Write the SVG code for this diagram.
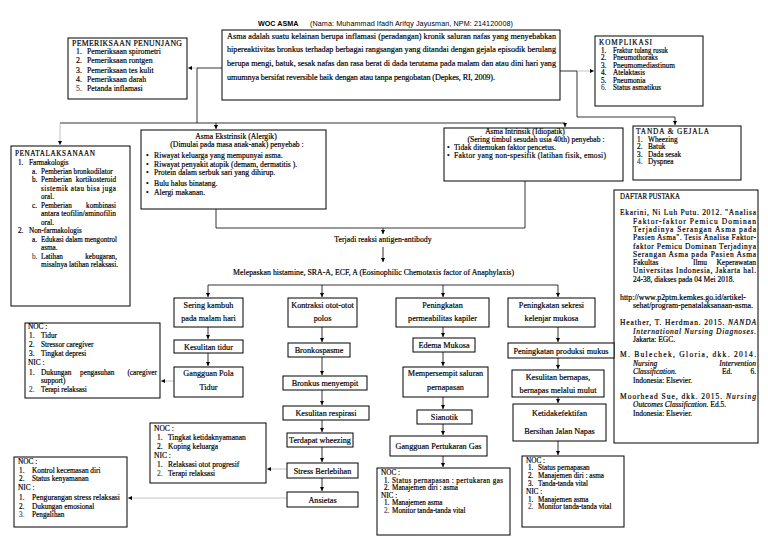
<svg xmlns="http://www.w3.org/2000/svg" width="768" height="543" viewBox="0 0 768 543" font-size="7.8">
<style>
text{font-family:"Liberation Serif","Times New Roman",serif;fill:#000;stroke:#000;stroke-width:.18}
.b{fill:#fff;stroke:#000;stroke-width:1}
.m{text-anchor:middle}
.e{text-anchor:end}
.i{font-style:italic}
.hd{font-family:"Liberation Sans",Arial,sans-serif;stroke-width:0}
.c{fill:none;stroke:#000;stroke-width:.8}
.g{fill:none;stroke:#b5b5b5;stroke-width:.8}
.gr{fill:#555;stroke:#555}
</style>
<defs>
<marker id="a" viewBox="0 0 6 6" markerWidth="4" markerHeight="4" refX="6" refY="3" orient="auto" markerUnits="userSpaceOnUse"><path d="M0,0L6,3L0,6z" fill="#000"/></marker>
</defs>
<rect width="768" height="543" fill="#fff"/>

<g id="title" font-size="7.2">
<text class="hd" x="258" y="26" font-weight="bold">WOC ASMA</text>
<text class="hd" x="310" y="26" textLength="203" lengthAdjust="spacing">(Nama: Muhammad Ifadh Arifqy Jayusman, NPM: 214120008)</text>
</g>

<g id="connectors">
<path class="c" d="M222,68H197V123"/>
<path class="g" d="M197,68H188" marker-end="url(#a)"/>
<path class="c" d="M60,123H565"/>
<path class="g" d="M60,123V145" marker-end="url(#a)"/>
<path class="c" d="M216,123V129" marker-end="url(#a)"/>
<path class="c" d="M565,123V127" marker-end="url(#a)"/>
<path class="c" d="M560,71H577V117H675V125" marker-end="url(#a)"/>
<path class="g" d="M577,71H594" marker-end="url(#a)"/>
<path class="c" d="M216,209V228H525V181"/>
<path class="c" d="M383,228V234" marker-end="url(#a)"/>
<path class="c" d="M383,247V262" marker-end="url(#a)"/>
<path class="c" d="M208,285H558"/>
<path class="c" d="M208,285V297" marker-end="url(#a)"/>
<path class="c" d="M322,285V297" marker-end="url(#a)"/>
<path class="c" d="M443,285V297" marker-end="url(#a)"/>
<path class="c" d="M558,285V297" marker-end="url(#a)"/>
<path class="c" d="M208,327V339" marker-end="url(#a)"/>
<path class="c" d="M208,353V366" marker-end="url(#a)"/>
<path class="g" d="M174,381H161" marker-end="url(#a)"/>
<path class="c" d="M322,327V342" marker-end="url(#a)"/>
<path class="c" d="M322,357V375" marker-end="url(#a)"/>
<path class="c" d="M322,390V405" marker-end="url(#a)"/>
<path class="c" d="M322,420V432" marker-end="url(#a)"/>
<path class="c" d="M322,447V462" marker-end="url(#a)"/>
<path class="c" d="M322,478V491" marker-end="url(#a)"/>
<path class="g" d="M287,469H267" marker-end="url(#a)"/>
<path class="g" d="M287,498H128" marker-end="url(#a)"/>
<path class="c" d="M443,327V337" marker-end="url(#a)"/>
<path class="c" d="M443,352V366" marker-end="url(#a)"/>
<path class="c" d="M443,397V409" marker-end="url(#a)"/>
<path class="c" d="M443,424V435" marker-end="url(#a)"/>
<path class="c" d="M443,456V467" marker-end="url(#a)"/>
<path class="c" d="M558,327V342" marker-end="url(#a)"/>
<path class="c" d="M558,358V369" marker-end="url(#a)"/>
<path class="c" d="M558,397V403" marker-end="url(#a)"/>
<path class="c" d="M558,441V455" marker-end="url(#a)"/>
</g>

<g id="definisi" font-size="8.2">
<rect class="b" x="222" y="30" width="338" height="70"/>
<text x="227" y="39" textLength="329" lengthAdjust="spacing">Asma adalah suatu kelainan berupa inflamasi (peradangan) kronik saluran nafas yang menyebabkan</text>
<text x="227" y="52" textLength="329" lengthAdjust="spacing">hipereaktivitas bronkus terhadap berbagai rangsangan yang ditandai dengan gejala episodik berulang</text>
<text x="227" y="66" textLength="329" lengthAdjust="spacing">berupa mengi, batuk, sesak nafas dan rasa berat di dada terutama pada malam dan atau dini hari yang</text>
<text x="227" y="80" textLength="268" lengthAdjust="spacing">umumnya bersifat reversible baik dengan atau tanpa pengobatan (Depkes, RI, 2009).</text>
</g>

<g id="pemeriksaan">
<rect class="b" x="68" y="38" width="119" height="61"/>
<text x="72" y="45.5" textLength="110" lengthAdjust="spacing">PEMERIKSAAN PENUNJANG</text>
<text x="76" y="54">1.</text><text x="87" y="54">Pemeriksaan spirometri</text>
<text x="76" y="63.3">2.</text><text x="87" y="63.3">Pemeriksaan rontgen</text>
<text x="76" y="72.6">3.</text><text x="87" y="72.6">Pemeriksaan tes kulit</text>
<text x="76" y="82">4.</text><text x="87" y="82">Pemeriksaan darah</text>
<text x="76" y="91" class="gr">5.</text><text x="87" y="91">Petanda inflamasi</text>
</g>

<g id="komplikasi" font-size="7.2">
<rect class="b" x="595" y="36" width="108" height="70"/>
<text x="599" y="44.5" textLength="53" lengthAdjust="spacing">KOMPLIKASI</text>
<text x="601" y="52.5">1.</text><text x="613" y="52.5" textLength="55" lengthAdjust="spacingAndGlyphs">Fraktur tulang rusuk</text>
<text x="601" y="60">2.</text><text x="613" y="60">Pneumothoraks</text>
<text x="601" y="67.5">3.</text><text x="613" y="67.5" textLength="62" lengthAdjust="spacingAndGlyphs">Pneumomediastinum</text>
<text x="601" y="75">4.</text><text x="613" y="75">Atelaktasis</text>
<text x="601" y="82.5">5.</text><text x="613" y="82.5">Pneumonia</text>
<text class="gr" x="601" y="90">6.</text><text x="613" y="90">Status asmatikus</text>
</g>

<g id="tanda" font-size="7.3">
<rect class="b" x="633" y="126" width="108" height="54"/>
<text x="636" y="133.5" textLength="73" lengthAdjust="spacing">TANDA &amp; GEJALA</text>
<text x="637" y="141.5">1.</text><text x="648" y="141.5">Wheezing</text>
<text x="637" y="149">2.</text><text x="648" y="149">Batuk</text>
<text x="637" y="156.5">3.</text><text x="648" y="156.5">Dada sesak</text>
<text x="637" y="164" class="gr">4.</text><text x="648" y="164">Dyspnea</text>
</g>

<g id="penatalaksanaan" font-size="7.2">
<rect class="b" x="11" y="146" width="119" height="160"/>
<text x="15" y="156" textLength="80" lengthAdjust="spacing">PENATALAKSANAAN</text>
<text x="18" y="165">1.</text><text x="29" y="165">Farmakologis</text>
<text x="32" y="173.5">a.</text><text x="41" y="173.5">Pemberian bronkodilator</text>
<text x="32" y="182">b.</text><text x="41" y="182">Pemberian</text><text class="e" x="116" y="182">kortikosteroid</text>
<text x="41" y="190.5" textLength="75" lengthAdjust="spacing">sistemik atau bisa juga</text>
<text x="41" y="199">oral.</text>
<text x="32" y="207.5">c.</text><text x="41" y="207.5">Pemberian</text><text class="e" x="116" y="207.5">kombinasi</text>
<text x="41" y="216" textLength="75" lengthAdjust="spacingAndGlyphs">antara teofilin/aminofilin</text>
<text x="41" y="224.5">oral.</text>
<text x="18" y="233">2.</text><text x="29" y="233">Non-farmakologis</text>
<text x="32" y="241.5">a.</text><text x="41" y="241.5" textLength="76" lengthAdjust="spacingAndGlyphs">Edukasi dalam mengontrol</text>
<text x="41" y="250">asma.</text>
<text class="gr" x="32" y="258.5">b.</text><text x="41" y="258.5">Latihan</text><text class="e" x="117" y="258.5">kebugaran,</text>
<text x="41" y="267" textLength="77" lengthAdjust="spacingAndGlyphs">misalnya latihan relaksasi.</text>
</g>

<g id="ekstrinsik" font-size="7.7">
<rect class="b" x="141" y="130" width="185" height="79"/>
<text class="m" x="236" y="138.5">Asma Ekstrinsik (Alergik)</text>
<text class="m" x="237" y="146.5">(Dimulai pada masa anak-anak) penyebab :</text>
<text x="146" y="158">•</text><text x="154" y="158">Riwayat keluarga yang mempunyai asma.</text>
<text x="146" y="166.5">•</text><text x="154" y="166.5">Riwayat penyakit atopik (demam, dermatitis ).</text>
<text x="146" y="175">•</text><text x="154" y="175">Protein dalam serbuk sari yang dihirup.</text>
<text x="146" y="186">•</text><text x="154" y="186">Bulu halus binatang.</text>
<text x="146" y="195">•</text><text x="154" y="195">Alergi makanan.</text>
</g>

<g id="intrinsik" font-size="7.6">
<rect class="b" x="444" y="128" width="179" height="53"/>
<text class="m" x="525" y="134">Asma Intrinsik (Idiopatik)</text>
<text class="m" x="536" y="142">(Sering timbul sesudah usia 40th) penyebab :</text>
<text x="447" y="150">•</text><text x="454" y="150">Tidak ditemukan faktor pencetus.</text>
<text x="447" y="157.5">•</text><text x="454" y="157.5" textLength="152" lengthAdjust="spacing">Faktor yang non-spesifik (latihan fisik, emosi)</text>
</g>

<g id="daftar-pustaka" font-size="7.5">
<rect class="b" x="614" y="190" width="144" height="253"/>
<text x="620" y="199" textLength="60" lengthAdjust="spacingAndGlyphs">DAFTAR PUSTAKA</text>
<text x="620" y="215" textLength="136" lengthAdjust="spacing">Ekarini, Ni Luh Putu. 2012. "Analisa</text>
<text x="633" y="224" textLength="123" lengthAdjust="spacing">Faktor-faktor Pemicu Dominan</text>
<text x="633" y="232" textLength="123" lengthAdjust="spacing">Terjadinya Serangan Asma pada</text>
<text x="633" y="240" textLength="123" lengthAdjust="spacing">Pasien Asma". Tesis Analisa Faktor-</text>
<text x="633" y="249" textLength="123" lengthAdjust="spacing">faktor Pemicu Dominan Terjadinya</text>
<text x="633" y="257" textLength="123" lengthAdjust="spacing">Serangan Asma pada Pasien Asma</text>
<text x="633" y="265">Fakultas</text><text class="m" x="700" y="265">Ilmu</text><text class="e" x="756" y="265">Keperawatan</text>
<text x="633" y="273" textLength="123" lengthAdjust="spacing">Universitas Indonesia, Jakarta hal.</text>
<text x="633" y="282">24-38, diakses pada 04 Mei 2018.</text>
<text x="620" y="300" textLength="126" lengthAdjust="spacingAndGlyphs">http://www.p2ptm.kemkes.go.id/artikel-</text>
<text x="633" y="308" textLength="120" lengthAdjust="spacingAndGlyphs">sehat/program-penatalaksanaan-asma.</text>
<text x="620" y="325" textLength="136" lengthAdjust="spacing">Heather, T. Herdman. 2015. <tspan class="i">NANDA</tspan></text>
<text class="i" x="633" y="334" textLength="123" lengthAdjust="spacing">International Nursing Diagnoses.</text>
<text x="633" y="342">Jakarta: EGC.</text>
<text x="620" y="357" textLength="136" lengthAdjust="spacing">M. Bulechek, Gloria, dkk. 2014.</text>
<text class="i" x="633" y="366">Nursing</text><text class="i e" x="756" y="366">Intervention</text>
<text class="i" x="633" y="374">Classification.</text><text x="722" y="374">Ed.</text><text class="e" x="756" y="374">6.</text>
<text x="633" y="383">Indonesia: Elsevier.</text>
<text x="620" y="399" textLength="136" lengthAdjust="spacing">Moorhead Sue, dkk. 2015. <tspan class="i">Nursing</tspan></text>
<text x="633" y="407"><tspan class="i">Outcomes Classification.</tspan> Ed.5.</text>
<text x="633" y="416">Indonesia: Elsevier.</text>
</g>

<g id="reaksi">
<text class="m" x="383" y="242">Terjadi reaksi antigen-antibody</text>
</g>
<g id="histamin">
<text x="233" y="275" textLength="281" lengthAdjust="spacing">Melepaskan histamine, SRA-A, ECF, A (Eosinophilic Chemotaxis factor of Anaphylaxis)</text>
</g>

<g id="flow" font-size="8.2">
<g id="sering-kambuh"><rect class="b" x="174" y="298" width="69" height="29"/><text class="m" x="208.5" y="308">Sering kambuh</text><text class="m" x="208.5" y="321">pada malam hari</text></g>
<g id="kontraksi"><rect class="b" x="288" y="298" width="69" height="29"/><text class="m" x="322.5" y="308">Kontraksi otot-otot</text><text class="m" x="322.5" y="321">polos</text></g>
<g id="permeabilitas"><rect class="b" x="396" y="298" width="93" height="29"/><text class="m" x="442.5" y="308">Peningkatan</text><text class="m" x="442.5" y="321">permeabilitas kapiler</text></g>
<g id="sekresi"><rect class="b" x="508" y="298" width="87" height="29"/><text class="m" x="551.5" y="308">Peningkatan sekresi</text><text class="m" x="551.5" y="321">kelenjar mukosa</text></g>

<g id="kesulitan-tidur"><rect class="b" x="174" y="340" width="69" height="13"/><text class="m" x="208.5" y="349.5">Kesulitan tidur</text></g>
<g id="bronkospasme"><rect class="b" x="288" y="343" width="62" height="14"/><text class="m" x="319" y="353">Bronkospasme</text></g>
<g id="edema"><rect class="b" x="413" y="338" width="62" height="14"/><text class="m" x="444" y="348">Edema Mukosa</text></g>
<g id="produksi-mukus"><rect class="b" x="508" y="343" width="106" height="15"/><text class="m" x="561" y="353.5">Peningkatan produksi mukus</text></g>

<g id="pola-tidur"><rect class="b" x="174" y="367" width="69" height="30"/><text class="m" x="208.5" y="376">Gangguan Pola</text><text class="m" x="208.5" y="390">Tidur</text></g>
<g id="bronkus"><rect class="b" x="283" y="376" width="84" height="14"/><text class="m" x="325" y="386">Bronkus menyempit</text></g>
<g id="saluran"><rect class="b" x="403" y="367" width="85" height="30"/><text class="m" x="445.5" y="376">Mempersempit saluran</text><text class="m" x="445.5" y="390">pernapasan</text></g>
<g id="bernapas"><rect class="b" x="512" y="370" width="92" height="27"/><text class="m" x="558" y="380">Kesulitan bernapas,</text><text class="m" x="558" y="393">bernapas melalui mulut</text></g>

<g id="respirasi"><rect class="b" x="283" y="406" width="86" height="14"/><text class="m" x="326" y="416">Kesulitan respirasi</text></g>
<g id="sianotik"><rect class="b" x="417" y="410" width="55" height="14"/><text class="m" x="444.5" y="420">Sianotik</text></g>
<g id="bersihan"><rect class="b" x="513" y="404" width="93" height="37"/><text class="m" x="559.5" y="415.5">Ketidakefektifan</text><text class="m" x="559.5" y="434">Bersihan Jalan Napas</text></g>

<g id="wheezing"><rect class="b" x="287" y="433" width="66" height="14"/><text class="m" x="320" y="443">Terdapat wheezing</text></g>
<g id="pertukaran-gas"><rect class="b" x="390" y="436" width="97" height="20"/><text class="m" x="438.5" y="449">Gangguan Pertukaran Gas</text></g>
<g id="stress"><rect class="b" x="287" y="463" width="71" height="15"/><text class="m" x="322.5" y="473.5">Stress Berlebihan</text></g>
<g id="ansietas"><rect class="b" x="287" y="492" width="71" height="15"/><text class="m" x="322.5" y="502.5">Ansietas</text></g>
</g>

<g id="noc-tidur" font-size="7.3">
<rect class="b" x="25" y="323" width="135" height="75"/>
<text x="28" y="329">NOC :</text>
<text x="29" y="338">1.</text><text x="41" y="338">Tidur</text>
<text x="29" y="347">2.</text><text x="41" y="347">Stressor caregiver</text>
<text x="29" y="355.5">3.</text><text x="41" y="355.5">Tingkat depresi</text>
<text x="28" y="364.5">NIC :</text>
<text x="29" y="374.5">1.</text><text x="41" y="374.5">Dukungan</text><text x="80" y="374.5">pengasuhan</text><text class="e" x="157" y="374.5">(caregiver</text>
<text x="41" y="382.5">support)</text>
<text class="gr" x="29" y="392">2.</text><text x="41" y="392">Terapi relaksasi</text>
</g>

<g id="noc-stress" font-size="7.5">
<rect class="b" x="150" y="423" width="116" height="60"/>
<text x="154" y="431">NOC :</text>
<text x="157" y="440">1.</text><text x="168" y="440">Tingkat ketidaknyamanan</text>
<text x="157" y="449">2.</text><text x="168" y="449">Koping keluarga</text>
<text x="154" y="457.5">NIC :</text>
<text x="157" y="466.5">1.</text><text x="168" y="466.5">Relaksasi otot progresif</text>
<text x="157" y="476" class="gr">2.</text><text x="168" y="476">Terapi relaksasi</text>
</g>

<g id="noc-ansietas" font-size="7.3">
<rect class="b" x="14" y="457" width="113" height="70"/>
<text x="18" y="464">NOC :</text>
<text x="19" y="472.5">1.</text><text x="32" y="472.5">Kontrol kecemasan diri</text>
<text x="19" y="481">2.</text><text x="32" y="481">Status kenyamanan</text>
<text x="18" y="489.5">NIC :</text>
<text x="19" y="500">1.</text><text x="32" y="500" textLength="88" lengthAdjust="spacingAndGlyphs">Pengurangan stress relaksasi</text>
<text x="19" y="508.5">2.</text><text x="32" y="508.5">Dukungan emosional</text>
<text class="gr" x="19" y="517">3.</text><text x="32" y="517">Pengalihan</text>
</g>

<g id="noc-gas" font-size="7.2">
<rect class="b" x="377" y="468" width="133" height="67"/>
<text x="381" y="475">NOC :</text>
<text x="384" y="482.6">1.</text><text x="392" y="482.6" textLength="111" lengthAdjust="spacing">Status pernapasan : pertukaran gas</text>
<text x="384" y="490.2">2.</text><text x="392" y="490.2">Manajemen diri : asma</text>
<text x="381" y="497.8">NIC :</text>
<text x="384" y="505.4">1.</text><text x="392" y="505.4">Manajemen asma</text>
<text class="gr" x="384" y="513">2.</text><text x="392" y="513">Monitor tanda-tanda vital</text>
</g>

<g id="noc-jalan-napas" font-size="7.2">
<rect class="b" x="522" y="456" width="102" height="71"/>
<text x="526" y="462.5">NOC :</text>
<text x="528" y="470.3">1.</text><text x="538" y="470.3">Status pernapasan</text>
<text x="528" y="478.1">2.</text><text x="538" y="478.1">Manajemen diri : asma</text>
<text x="528" y="485.9">3.</text><text x="538" y="485.9">Tanda-tanda vital</text>
<text x="526" y="493.7">NIC :</text>
<text x="528" y="501.5">1.</text><text x="538" y="501.5">Manajemen asma</text>
<text class="gr" x="528" y="509.3">2.</text><text x="538" y="509.3">Monitor tanda-tanda vital</text>
</g>
</svg>
